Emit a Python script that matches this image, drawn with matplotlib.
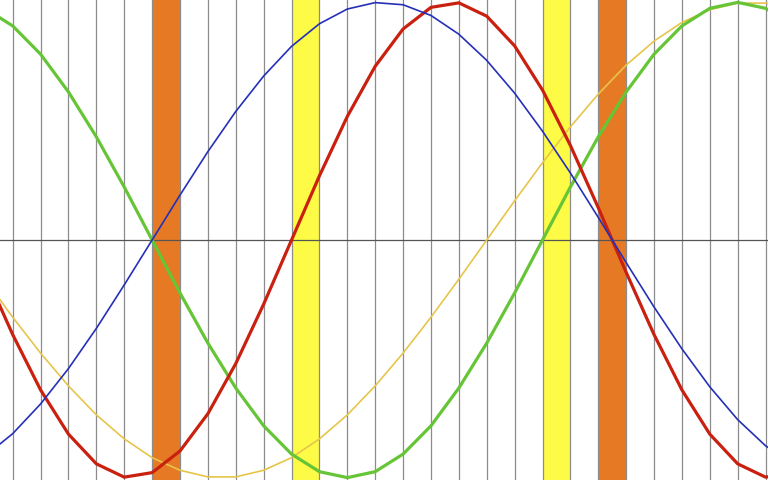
import matplotlib
matplotlib.use("Agg")
import matplotlib.pyplot as plt

# day index for each sample point (curves are drawn straight between days)
days = list(range(-1, 29))

# values, one per day
physical = [-0.136, -0.398, -0.631, -0.817, -0.942, -0.998, -0.979, -0.888, -0.731, -0.520,
            -0.270, 0.0, 0.270, 0.520, 0.731, 0.888, 0.979, 0.998, 0.942, 0.817,
            0.631, 0.398, 0.136, -0.136, -0.398, -0.631, -0.817, -0.942, -0.998, -0.979]
intellectual = [-0.910, -0.815, -0.690, -0.541, -0.372, -0.189, 0.0, 0.189, 0.372, 0.541,
                0.690, 0.815, 0.910, 0.972, 0.999, 0.990, 0.945, 0.866, 0.756, 0.618,
                0.458, 0.282, 0.095, -0.095, -0.282, -0.458, -0.618, -0.756, -0.866, -0.945]
emotional = [0.975, 0.901, 0.782, 0.623, 0.434, 0.223, 0.0, -0.223, -0.434, -0.623,
             -0.782, -0.901, -0.975, -1.0, -0.975, -0.901, -0.782, -0.623, -0.434, -0.223,
             0.0, 0.223, 0.434, 0.623, 0.782, 0.901, 0.975, 1.0, 0.975, 0.901]
intuitive = [-0.164, -0.325, -0.476, -0.614, -0.736, -0.837, -0.916, -0.969, -0.997, -0.997,
             -0.969, -0.916, -0.837, -0.736, -0.614, -0.476, -0.325, -0.165, 0.0, 0.165,
             0.325, 0.476, 0.614, 0.736, 0.837, 0.916, 0.969, 0.997, 0.997, 0.969]

# critical days: single crossing (yellow), double crossing (orange)
singleCritical = [10, 19]
doubleCritical = [5, 21]
gridDays = list(range(0, 28))

fig = plt.figure(figsize=(7.68, 4.8), dpi=100)
ax = fig.add_axes([0, 0, 1, 1])
ax.set_xlim(-0.4555, 27.087)
ax.set_ylim(-1.01, 1.01)
ax.axis("off")

for d in singleCritical:
    ax.axvspan(d, d + 1, color="#fdfb45", lw=0, zorder=1)
for d in doubleCritical:
    ax.axvspan(d, d + 1, color="#e67a24", lw=0, zorder=1)

for d in gridDays:
    ax.axvline(d, color="#8c8c8c", lw=0.9, zorder=2)
ax.axhline(0, color="#555555", lw=0.9, zorder=3)

ax.plot(days, intuitive, color="#e6c54a", lw=1.2, zorder=4)
ax.plot(days, emotional, color="#66c536", lw=2.3, zorder=5)
ax.plot(days, physical, color="#c9200f", lw=2.3, zorder=6)
ax.plot(days, intellectual, color="#2530b8", lw=1.2, zorder=7)

fig.savefig("out.png", dpi=100)
